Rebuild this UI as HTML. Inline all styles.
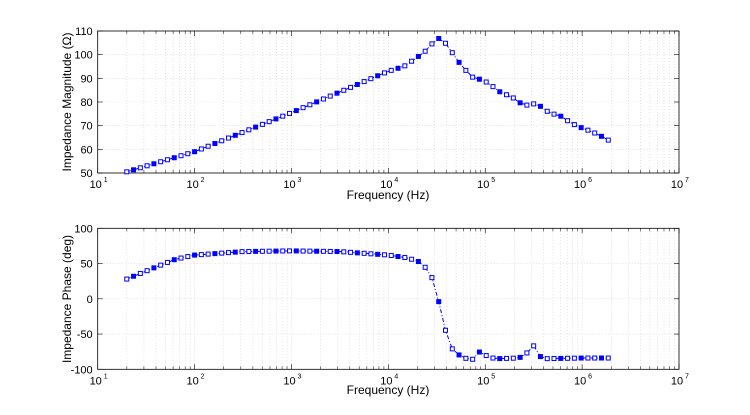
<!DOCTYPE html>
<html><head><meta charset="utf-8"><style>
html,body{margin:0;padding:0;background:#fff;}
svg{display:block;font-family:"Liberation Sans",sans-serif;}
</style></head><body>
<svg id="s" width="750" height="415" viewBox="0 0 750 415" xmlns="http://www.w3.org/2000/svg">
<rect width="750" height="415" fill="#fff"/>
<g id="g"></g>
<text x="388" y="199" font-size="12" text-anchor="middle">Frequency (Hz)</text>
<text x="388" y="394" font-size="12" text-anchor="middle">Frequency (Hz)</text>
<text transform="translate(71,102) rotate(-90)" font-size="12" text-anchor="middle">Impedance Magnitude (Ω)</text>
<text transform="translate(71,299) rotate(-90)" font-size="12" text-anchor="middle">Impedance Phase (deg)</text>
</svg>
<script>
var NS="http://www.w3.org/2000/svg",g=document.getElementById('g');
function el(t,a,txt){var e=document.createElementNS(NS,t);for(var k in a)e.setAttribute(k,a[k]);if(txt!==undefined)e.textContent=txt;g.appendChild(e);return e;}
var X0=97.7,X1=679,dec=(X1-X0)/6;
function xf(l){return X0+(l-1)*dec;}
function interp(pts,l){for(var i=0;i<pts.length-1;i++){if(l<=pts[i+1][0]){var a=pts[i],b=pts[i+1];return a[1]+(b[1]-a[1])*(l-a[0])/(b[0]-a[0]);}}return pts[pts.length-1][1];}
function axes(top,bot,ymin,ymax,step,series){
  var yf=function(v){return bot-(v-ymin)/(ymax-ymin)*(bot-top);};
  // grid
  for(var d=1;d<7;d++)for(var m=1;m<10;m++){var x=xf(d+Math.log10(m));if(m>1||d>1)el('line',{x1:x,x2:x,y1:top,y2:bot,stroke:'#d0d0d0','stroke-width':0.6,'stroke-dasharray':'1,2'});}
  for(var v=ymin+step;v<ymax;v+=step)el('line',{x1:X0,x2:X1,y1:yf(v),y2:yf(v),stroke:'#d0d0d0','stroke-width':0.6,'stroke-dasharray':'1,2'});
  el('rect',{x:X0,y:top,width:X1-X0,height:bot-top,fill:'none',stroke:'#000','stroke-width':0.8});
  for(var d=1;d<=7;d++){var x=xf(d);
    el('line',{x1:x,x2:x,y1:bot,y2:bot-5,stroke:'#000','stroke-width':0.6});
    el('line',{x1:x,x2:x,y1:top,y2:top+5,stroke:'#000','stroke-width':0.6});
    var t=el('text',{x:x-2,y:bot+15,'font-size':11,'text-anchor':'middle'},'10');
    el('text',{x:x+6,y:bot+9,'font-size':7},String(d));
    if(d<7)for(var m=2;m<10;m++){var xm=xf(d+Math.log10(m));el('line',{x1:xm,x2:xm,y1:bot,y2:bot-3,stroke:'#000','stroke-width':0.5});el('line',{x1:xm,x2:xm,y1:top,y2:top+3,stroke:'#000','stroke-width':0.5});}
  }
  for(var v=ymin;v<=ymax;v+=step){var y=yf(v);
    el('line',{x1:X0,x2:X0+5,y1:y,y2:y,stroke:'#000','stroke-width':0.6});
    el('line',{x1:X1,x2:X1-5,y1:y,y2:y,stroke:'#000','stroke-width':0.6});
    el('text',{x:X0-5,y:y+4,'font-size':11,'text-anchor':'end'},String(v));}
  // series
  var ls=[],p='';
  for(var l=1.3;l<=6.301;l+=0.07)ls.push(l);
  ls.forEach(function(l,i){var x=xf(l),y=yf(interp(series,l));p+=(i?'L':'M')+x.toFixed(1)+','+y.toFixed(1);});
  el('path',{d:p,fill:'none',stroke:'#0000ff','stroke-width':1,'stroke-dasharray':'4,2,1,2'});
  ls.forEach(function(l,i){var x=xf(l),y=yf(interp(series,l));
    el('rect',{x:x-2,y:y-2,width:4,height:4,fill:(i%3==1)?'#0000ff':'#fff',stroke:'#0000ff','stroke-width':1});});
}
var mag=[[1.3,50.5],[2,59],[3,75.5],[4,93],[4.16,95],[4.25,97.5],[4.37,101],[4.46,105],[4.5,107],[4.56,106.5],[4.64,102],[4.76,95],[4.87,90.5],[4.99,89],[5.08,86.5],[5.14,84.5],[5.28,82],[5.4,78.5],[5.48,79],[5.53,79.5],[5.59,77.5],[5.66,75.5],[5.78,74],[5.89,71],[6,69],[6.1,67.5],[6.2,65.5],[6.31,63]];
var ph=[[1.3,28],[1.6,45],[1.8,56],[2,62],[2.5,67],[3,68],[3.5,67],[4,62],[4.2,58],[4.35,51],[4.45,30],[4.5,8],[4.58,-40],[4.64,-68],[4.7,-77],[4.78,-84],[4.88,-86],[4.96,-72],[5,-80],[5.1,-85],[5.35,-84],[5.45,-75],[5.49,-63],[5.53,-78],[5.6,-85],[6,-84],[6.31,-84]];
axes(31,173,50,110,10,mag);
axes(228.3,369.3,-100,100,50,ph);
</script>
</body></html>
